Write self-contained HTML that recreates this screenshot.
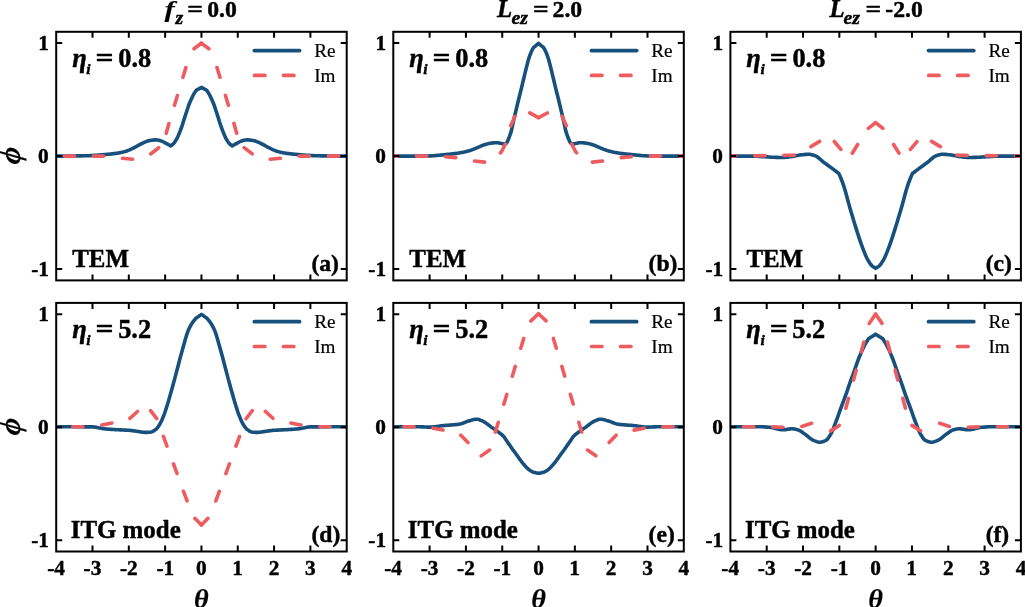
<!DOCTYPE html>
<html lang="en">
<head>
<meta charset="utf-8">
<title>Mode structures</title>
<style>
html,body{margin:0;padding:0;background:#fff;}
body{width:1025px;height:607px;overflow:hidden;}
svg{display:block;}
text{font-family:"Liberation Serif","DejaVu Serif",serif;fill:#000;}
.tk,.an,.ti,.ax{font-weight:bold;stroke:#000;stroke-width:0.45px;stroke-linejoin:round;}
.ax{font-style:italic;stroke-width:0.15px;}
.lg{font-size:19.2px;font-weight:normal;stroke:#000;stroke-width:0.2px;}
.it{font-style:italic;}
.ns{stroke-width:0.1px;}
</style>
</head>
<body>
<svg width="1025" height="607" viewBox="0 0 1025 607">
<rect x="0" y="0" width="1025" height="607" fill="#ffffff"/>
<defs>
<clipPath id="cp_a"><rect x="56.2" y="31.8" width="290.5" height="248.6"/></clipPath>
<clipPath id="cp_b"><rect x="393.3" y="31.8" width="290.5" height="248.6"/></clipPath>
<clipPath id="cp_c"><rect x="730.4" y="31.8" width="290.5" height="248.6"/></clipPath>
<clipPath id="cp_d"><rect x="56.2" y="302.9" width="290.5" height="248.6"/></clipPath>
<clipPath id="cp_e"><rect x="393.3" y="302.9" width="290.5" height="248.6"/></clipPath>
<clipPath id="cp_f"><rect x="730.4" y="302.9" width="290.5" height="248.6"/></clipPath>
</defs>
<g id="panel_a">
<g clip-path="url(#cp_a)" fill="none" stroke-linejoin="round">
<path d="M56.0,156.1 L57.0,156.1 L58.0,156.1 L59.0,156.1 L60.0,156.1 L61.0,156.1 L62.0,156.1 L63.0,156.1 L64.0,156.1 L65.0,156.1 L66.0,156.1 L67.0,156.1 L68.0,156.0 L69.0,156.0 L70.0,156.0 L70.9,156.0 L71.9,156.0 L72.9,156.0 L73.9,156.0 L74.9,156.0 L75.9,156.0 L76.9,155.9 L77.9,155.9 L78.9,155.9 L79.9,155.9 L80.9,155.9 L81.9,155.9 L82.9,155.8 L83.9,155.8 L84.9,155.8 L85.9,155.8 L86.9,155.8 L87.9,155.7 L88.9,155.7 L89.9,155.6 L90.9,155.6 L91.9,155.5 L92.9,155.5 L93.9,155.4 L94.9,155.4 L95.9,155.3 L96.9,155.2 L97.9,155.1 L98.9,155.1 L99.8,155.0 L100.8,154.9 L101.8,154.8 L102.8,154.7 L103.8,154.6 L104.8,154.6 L105.8,154.5 L106.8,154.4 L107.8,154.3 L108.8,154.2 L109.8,154.1 L110.8,154.0 L111.8,153.9 L112.8,153.8 L113.8,153.6 L114.8,153.5 L115.8,153.4 L116.8,153.2 L117.8,153.1 L118.8,152.9 L119.8,152.8 L120.8,152.6 L121.8,152.4 L122.8,152.1 L123.8,151.9 L124.8,151.6 L125.8,151.3 L126.8,151.0 L127.7,150.6 L128.7,150.2 L129.7,149.8 L130.7,149.3 L131.7,148.9 L132.7,148.4 L133.7,147.9 L134.7,147.4 L135.7,146.8 L136.7,146.3 L137.7,145.7 L138.7,145.2 L139.7,144.6 L140.7,144.1 L141.7,143.6 L142.7,143.1 L143.7,142.7 L144.7,142.2 L145.7,141.8 L146.7,141.4 L147.7,141.0 L148.7,140.7 L149.7,140.5 L150.7,140.4 L151.7,140.2 L152.7,140.1 L153.7,140.0 L154.7,139.9 L155.7,139.9 L156.6,139.9 L157.6,140.1 L158.6,140.3 L159.6,140.5 L160.6,140.8 L161.6,141.1 L162.6,141.5 L163.6,142.0 L164.6,142.5 L165.6,143.1 L166.6,143.6 L167.6,144.2 L168.6,144.7 L169.6,145.3 L170.6,145.9 L171.6,145.3 L172.6,144.5 L173.6,143.5 L174.6,142.3 L175.5,140.9 L176.5,139.3 L177.5,137.4 L178.5,135.1 L179.5,132.7 L180.5,130.2 L181.5,127.5 L182.5,124.6 L183.4,121.5 L184.4,118.4 L185.4,115.4 L186.4,112.3 L187.4,109.2 L188.4,106.2 L189.4,103.5 L190.4,101.1 L191.4,98.9 L192.3,96.9 L193.3,95.0 L194.3,93.2 L195.3,91.6 L196.3,90.2 L197.3,89.6 L198.4,89.1 L199.4,88.5 L200.5,88.0 L201.4,87.4 L202.4,88.0 L203.5,88.5 L204.5,89.1 L205.6,89.6 L206.6,90.2 L207.6,91.6 L208.6,93.2 L209.6,95.0 L210.6,96.9 L211.5,98.9 L212.5,101.1 L213.5,103.5 L214.5,106.2 L215.5,109.2 L216.5,112.3 L217.5,115.4 L218.5,118.4 L219.4,121.5 L220.4,124.6 L221.4,127.5 L222.4,130.2 L223.4,132.7 L224.4,135.1 L225.4,137.4 L226.4,139.3 L227.4,140.9 L228.3,142.3 L229.3,143.5 L230.3,144.5 L231.3,145.3 L232.3,145.9 L233.3,145.3 L234.3,144.7 L235.3,144.2 L236.3,143.6 L237.3,143.1 L238.3,142.5 L239.3,142.0 L240.3,141.5 L241.3,141.1 L242.3,140.8 L243.3,140.5 L244.3,140.3 L245.3,140.1 L246.3,139.9 L247.2,139.9 L248.2,139.9 L249.2,140.0 L250.2,140.1 L251.2,140.2 L252.2,140.4 L253.2,140.5 L254.2,140.7 L255.2,141.0 L256.2,141.4 L257.2,141.8 L258.2,142.2 L259.2,142.7 L260.2,143.1 L261.2,143.6 L262.2,144.1 L263.2,144.6 L264.2,145.2 L265.2,145.7 L266.2,146.3 L267.2,146.8 L268.2,147.4 L269.2,147.9 L270.2,148.4 L271.2,148.9 L272.2,149.3 L273.2,149.8 L274.2,150.2 L275.2,150.6 L276.1,151.0 L277.1,151.3 L278.1,151.6 L279.1,151.9 L280.1,152.1 L281.1,152.4 L282.1,152.6 L283.1,152.8 L284.1,152.9 L285.1,153.1 L286.1,153.2 L287.1,153.4 L288.1,153.5 L289.1,153.6 L290.1,153.8 L291.1,153.9 L292.1,154.0 L293.1,154.1 L294.1,154.2 L295.1,154.3 L296.1,154.4 L297.1,154.5 L298.1,154.6 L299.1,154.6 L300.1,154.7 L301.1,154.8 L302.1,154.9 L303.1,155.0 L304.0,155.1 L305.0,155.1 L306.0,155.2 L307.0,155.3 L308.0,155.4 L309.0,155.4 L310.0,155.5 L311.0,155.5 L312.0,155.6 L313.0,155.6 L314.0,155.7 L315.0,155.7 L316.0,155.8 L317.0,155.8 L318.0,155.8 L319.0,155.8 L320.0,155.8 L321.0,155.9 L322.0,155.9 L323.0,155.9 L324.0,155.9 L325.0,155.9 L326.0,155.9 L327.0,156.0 L328.0,156.0 L329.0,156.0 L330.0,156.0 L331.0,156.0 L332.0,156.0 L332.9,156.0 L333.9,156.0 L334.9,156.0 L335.9,156.1 L336.9,156.1 L337.9,156.1 L338.9,156.1 L339.9,156.1 L340.9,156.1 L341.9,156.1 L342.9,156.1 L343.9,156.1 L344.9,156.1 L345.9,156.1 L346.9,156.1" stroke="#17507c" stroke-width="3.6" stroke-linecap="butt"/>
<path d="M201.4,43.2 L190.9,51.0 L168.8,124.0 L165.2,137.0 L160.0,146.7 L150.6,154.0 L141.0,158.4 L133.0,159.2 L119.0,158.0 L104.0,156.1 L56.0,156.1" stroke="#ee5c60" stroke-width="3.6" stroke-linecap="round" stroke-dasharray="9.3 21.1 10.2 19.0 10.2 19.0 10.2 16.5 10.2 19.0 10.2 19.0 10.2 19.0 10.2 19.0 10.2 19.0 10.2 19.0 10.2 19.0 10.2 19.0 10.2 19.0 10.2 19.0 10.2 19.0"/>
<path d="M201.4,43.2 L212.0,51.0 L234.1,124.0 L237.7,137.0 L242.9,146.7 L252.3,154.0 L261.9,158.4 L269.9,159.2 L283.9,158.0 L298.9,156.1 L346.9,156.1" stroke="#ee5c60" stroke-width="3.6" stroke-linecap="round" stroke-dasharray="9.3 21.1 10.2 19.0 10.2 19.0 10.2 16.5 10.2 19.0 10.2 19.0 10.2 19.0 10.2 19.0 10.2 19.0 10.2 19.0 10.2 19.0 10.2 19.0 10.2 19.0 10.2 19.0 10.2 19.0"/>
</g>
<path d="M92.51,31.80 v6.0 M92.51,280.40 v-6.0 M128.82,31.80 v6.0 M128.82,280.40 v-6.0 M165.14,31.80 v6.0 M165.14,280.40 v-6.0 M201.45,31.80 v6.0 M201.45,280.40 v-6.0 M237.76,31.80 v6.0 M237.76,280.40 v-6.0 M274.07,31.80 v6.0 M274.07,280.40 v-6.0 M310.39,31.80 v6.0 M310.39,280.40 v-6.0 M56.20,269.10 h6.0 M346.70,269.10 h-6.0 M56.20,156.10 h6.0 M346.70,156.10 h-6.0 M56.20,43.10 h6.0 M346.70,43.10 h-6.0" stroke="#000" stroke-width="2.0" fill="none"/>
<rect x="56.20" y="31.80" width="290.50" height="248.60" fill="none" stroke="#000" stroke-width="2.0"/>
<text class="tk" style="font-size:21.3px" x="38.35" y="49.80">1</text>
<text class="tk" style="font-size:21.3px" x="38.06" y="162.80">0</text>
<text class="tk" style="font-size:21.3px" x="31.26" y="275.80">-1</text>
<text class="an it" style="font-size:26.4px" x="72.16" y="67.20">η</text>
<text class="an it" style="font-size:15.5px" x="86.21" y="74.20">i</text>
<text class="an" style="font-size:26.4px" transform="translate(95.52,67.20) scale(1.200,1)">=</text>
<text class="an" style="font-size:26.4px" x="118.19" y="67.20">0.8</text>
<text class="an" style="font-size:24.9px" x="72.21" y="266.60">TEM</text>
<text class="an" style="font-size:23.6px" x="311.46" y="270.50">(a)</text>
<path d="M254.3,50.6 H299.6" stroke="#17507c" stroke-width="3.7" stroke-linecap="round" fill="none"/>
<path d="M254.5,75.4 H301.2" stroke="#ee5c60" stroke-width="3.7" stroke-linecap="round" stroke-dasharray="10.4 18.6" fill="none"/>
<text class="lg" x="314.2" y="56.8">Re</text>
<text class="lg" x="314.2" y="82.0">Im</text>
</g>
<g id="panel_b">
<g clip-path="url(#cp_b)" fill="none" stroke-linejoin="round">
<path d="M393.3,156.1 L394.3,156.1 L395.3,156.1 L396.3,156.1 L397.3,156.1 L398.3,156.1 L399.3,156.1 L400.3,156.1 L401.3,156.1 L402.3,156.1 L403.3,156.1 L404.3,156.1 L405.3,156.1 L406.3,156.1 L407.3,156.1 L408.3,156.1 L409.3,156.1 L410.3,156.1 L411.3,156.1 L412.3,156.1 L413.3,156.1 L414.3,156.1 L415.3,156.1 L416.3,156.1 L417.3,156.1 L418.3,156.1 L419.3,156.0 L420.3,156.0 L421.3,156.0 L422.3,156.0 L423.3,156.0 L424.3,156.0 L425.3,156.0 L426.3,156.0 L427.3,156.0 L428.3,156.0 L429.3,156.0 L430.3,155.9 L431.3,155.9 L432.3,155.8 L433.3,155.8 L434.3,155.7 L435.3,155.6 L436.3,155.5 L437.3,155.4 L438.3,155.3 L439.3,155.2 L440.3,155.1 L441.3,155.0 L442.3,154.9 L443.3,154.8 L444.3,154.7 L445.3,154.6 L446.3,154.5 L447.3,154.4 L448.3,154.3 L449.3,154.2 L450.3,154.1 L451.3,154.0 L452.3,153.9 L453.3,153.7 L454.3,153.6 L455.3,153.5 L456.3,153.4 L457.3,153.2 L458.3,153.1 L459.3,152.9 L460.3,152.8 L461.3,152.6 L462.3,152.4 L463.3,152.2 L464.3,152.0 L465.3,151.8 L466.3,151.6 L467.3,151.3 L468.3,151.1 L469.3,150.7 L470.3,150.4 L471.3,150.0 L472.3,149.7 L473.3,149.3 L474.3,148.9 L475.3,148.5 L476.3,148.1 L477.3,147.7 L478.3,147.2 L479.3,146.8 L480.3,146.3 L481.3,145.9 L482.3,145.5 L483.3,145.1 L484.3,144.8 L485.3,144.5 L486.3,144.2 L487.3,143.9 L488.3,143.6 L489.3,143.4 L490.3,143.2 L491.3,143.1 L492.3,143.0 L493.3,142.9 L494.3,142.8 L495.3,142.7 L496.3,142.7 L497.3,142.7 L498.3,142.8 L499.3,143.0 L500.3,143.3 L501.3,143.5 L502.3,143.7 L503.3,143.7 L504.3,143.7 L505.3,143.6 L506.3,143.4 L507.3,141.8 L508.3,139.6 L509.3,137.0 L510.3,134.2 L511.4,130.6 L512.4,126.2 L513.4,121.5 L514.4,117.0 L515.4,112.8 L516.4,108.6 L517.4,104.5 L518.4,100.3 L519.4,96.2 L520.5,92.0 L521.5,87.9 L522.5,83.7 L523.5,79.5 L524.5,75.3 L525.5,71.1 L526.5,67.1 L527.5,63.2 L528.5,59.4 L529.6,56.2 L530.6,53.5 L531.6,51.1 L532.6,49.1 L533.6,47.5 L534.6,46.7 L535.6,45.9 L536.6,45.0 L537.6,44.2 L538.5,43.4 L539.5,44.2 L540.5,45.0 L541.5,45.9 L542.5,46.7 L543.5,47.5 L544.5,49.1 L545.5,51.1 L546.5,53.5 L547.5,56.2 L548.6,59.4 L549.6,63.2 L550.6,67.1 L551.6,71.1 L552.6,75.3 L553.6,79.5 L554.6,83.7 L555.6,87.9 L556.6,92.0 L557.7,96.2 L558.7,100.3 L559.7,104.5 L560.7,108.6 L561.7,112.8 L562.7,117.0 L563.7,121.5 L564.7,126.2 L565.7,130.6 L566.8,134.2 L567.8,137.0 L568.8,139.6 L569.8,141.8 L570.8,143.4 L571.8,143.6 L572.8,143.7 L573.8,143.7 L574.8,143.7 L575.8,143.5 L576.8,143.3 L577.8,143.0 L578.8,142.8 L579.8,142.7 L580.8,142.7 L581.8,142.7 L582.8,142.8 L583.8,142.9 L584.8,143.0 L585.8,143.1 L586.8,143.2 L587.8,143.4 L588.8,143.6 L589.8,143.9 L590.8,144.2 L591.8,144.5 L592.8,144.8 L593.8,145.1 L594.8,145.5 L595.8,145.9 L596.8,146.3 L597.8,146.8 L598.8,147.2 L599.8,147.7 L600.8,148.1 L601.8,148.5 L602.8,148.9 L603.8,149.3 L604.8,149.7 L605.8,150.0 L606.8,150.4 L607.8,150.7 L608.8,151.1 L609.8,151.3 L610.8,151.6 L611.8,151.8 L612.8,152.0 L613.8,152.2 L614.8,152.4 L615.8,152.6 L616.8,152.8 L617.8,152.9 L618.8,153.1 L619.8,153.2 L620.8,153.4 L621.8,153.5 L622.8,153.6 L623.8,153.7 L624.8,153.9 L625.8,154.0 L626.8,154.1 L627.8,154.2 L628.8,154.3 L629.8,154.4 L630.8,154.5 L631.8,154.6 L632.8,154.7 L633.8,154.8 L634.8,154.9 L635.8,155.0 L636.8,155.1 L637.8,155.2 L638.8,155.3 L639.8,155.4 L640.8,155.5 L641.8,155.6 L642.8,155.7 L643.8,155.8 L644.8,155.8 L645.8,155.9 L646.8,155.9 L647.8,156.0 L648.8,156.0 L649.8,156.0 L650.8,156.0 L651.8,156.0 L652.8,156.0 L653.8,156.0 L654.8,156.0 L655.8,156.0 L656.8,156.0 L657.8,156.0 L658.8,156.1 L659.8,156.1 L660.8,156.1 L661.8,156.1 L662.8,156.1 L663.8,156.1 L664.8,156.1 L665.8,156.1 L666.8,156.1 L667.8,156.1 L668.8,156.1 L669.8,156.1 L670.8,156.1 L671.8,156.1 L672.8,156.1 L673.8,156.1 L674.8,156.1 L675.8,156.1 L676.8,156.1 L677.8,156.1 L678.8,156.1 L679.8,156.1 L680.8,156.1 L681.8,156.1 L682.8,156.1 L683.8,156.1" stroke="#17507c" stroke-width="3.6" stroke-linecap="butt"/>
<path d="M538.5,117.7 L522.0,108.8 L515.8,114.4 L510.2,127.0 L505.9,143.0 L501.5,151.8 L493.0,160.0 L485.4,162.2 L472.9,160.9 L456.8,157.7 L443.6,156.5 L428.0,156.1 L393.3,156.1" stroke="#ee5c60" stroke-width="3.6" stroke-linecap="round" stroke-dasharray="10.0 19.4 10.2 19.0 10.2 19.0 10.2 19.0 10.2 19.0 10.2 19.0 10.2 19.0 10.2 19.0 10.2 19.0 10.2 19.0 10.2 19.0 10.2 19.0 10.2 19.0 10.2 19.0 10.2 19.0"/>
<path d="M538.5,117.7 L555.1,108.8 L561.3,114.4 L566.9,127.0 L571.2,143.0 L575.6,151.8 L584.1,160.0 L591.7,162.2 L604.2,160.9 L620.3,157.7 L633.5,156.5 L649.1,156.1 L683.8,156.1" stroke="#ee5c60" stroke-width="3.6" stroke-linecap="round" stroke-dasharray="10.0 19.4 10.2 19.0 10.2 19.0 10.2 19.0 10.2 19.0 10.2 19.0 10.2 19.0 10.2 19.0 10.2 19.0 10.2 19.0 10.2 19.0 10.2 19.0 10.2 19.0 10.2 19.0 10.2 19.0"/>
</g>
<path d="M429.61,31.80 v6.0 M429.61,280.40 v-6.0 M465.92,31.80 v6.0 M465.92,280.40 v-6.0 M502.24,31.80 v6.0 M502.24,280.40 v-6.0 M538.55,31.80 v6.0 M538.55,280.40 v-6.0 M574.86,31.80 v6.0 M574.86,280.40 v-6.0 M611.17,31.80 v6.0 M611.17,280.40 v-6.0 M647.49,31.80 v6.0 M647.49,280.40 v-6.0 M393.30,269.10 h6.0 M683.80,269.10 h-6.0 M393.30,156.10 h6.0 M683.80,156.10 h-6.0 M393.30,43.10 h6.0 M683.80,43.10 h-6.0" stroke="#000" stroke-width="2.0" fill="none"/>
<rect x="393.30" y="31.80" width="290.50" height="248.60" fill="none" stroke="#000" stroke-width="2.0"/>
<text class="tk" style="font-size:21.3px" x="375.45" y="49.80">1</text>
<text class="tk" style="font-size:21.3px" x="375.16" y="162.80">0</text>
<text class="tk" style="font-size:21.3px" x="368.36" y="275.80">-1</text>
<text class="an it" style="font-size:26.4px" x="409.26" y="67.20">η</text>
<text class="an it" style="font-size:15.5px" x="423.31" y="74.20">i</text>
<text class="an" style="font-size:26.4px" transform="translate(432.62,67.20) scale(1.200,1)">=</text>
<text class="an" style="font-size:26.4px" x="455.29" y="67.20">0.8</text>
<text class="an" style="font-size:24.9px" x="409.31" y="266.60">TEM</text>
<text class="an" style="font-size:23.6px" x="648.56" y="270.50">(b)</text>
<path d="M591.4,50.6 H636.7" stroke="#17507c" stroke-width="3.7" stroke-linecap="round" fill="none"/>
<path d="M591.6,75.4 H638.3" stroke="#ee5c60" stroke-width="3.7" stroke-linecap="round" stroke-dasharray="10.4 18.6" fill="none"/>
<text class="lg" x="651.3" y="56.8">Re</text>
<text class="lg" x="651.3" y="82.0">Im</text>
</g>
<g id="panel_c">
<g clip-path="url(#cp_c)" fill="none" stroke-linejoin="round">
<path d="M730.4,156.1 L731.4,156.1 L732.4,156.1 L733.4,156.1 L734.4,156.1 L735.4,156.1 L736.4,156.1 L737.4,156.1 L738.4,156.1 L739.4,156.1 L740.4,156.1 L741.4,156.1 L742.4,156.1 L743.4,156.1 L744.5,156.1 L745.5,156.1 L746.5,156.1 L747.5,156.1 L748.5,156.1 L749.5,156.1 L750.5,156.1 L751.5,156.1 L752.5,156.1 L753.5,156.1 L754.5,156.1 L755.5,156.2 L756.5,156.2 L757.5,156.3 L758.5,156.4 L759.5,156.4 L760.5,156.5 L761.5,156.6 L762.5,156.6 L763.5,156.7 L764.5,156.8 L765.5,156.8 L766.5,156.9 L767.5,156.9 L768.5,157.0 L769.5,157.0 L770.5,157.1 L771.6,157.2 L772.6,157.2 L773.6,157.3 L774.6,157.3 L775.6,157.4 L776.6,157.4 L777.6,157.4 L778.6,157.5 L779.6,157.5 L780.6,157.5 L781.6,157.5 L782.6,157.5 L783.6,157.4 L784.6,157.4 L785.6,157.3 L786.6,157.2 L787.6,157.1 L788.6,157.0 L789.6,156.8 L790.6,156.7 L791.6,156.6 L792.6,156.4 L793.6,156.3 L794.6,156.0 L795.6,155.8 L796.6,155.6 L797.6,155.4 L798.7,155.2 L799.7,155.0 L800.7,154.9 L801.7,154.8 L802.7,154.7 L803.7,154.6 L804.7,154.5 L805.7,154.4 L806.7,154.4 L807.7,154.3 L808.7,154.3 L809.7,154.3 L810.7,154.5 L811.7,154.7 L812.7,155.0 L813.7,155.3 L814.7,155.6 L815.7,156.0 L816.7,156.5 L817.7,157.2 L818.7,158.0 L819.7,158.8 L820.7,159.7 L821.7,160.6 L822.7,161.5 L823.7,162.3 L824.7,163.0 L825.8,163.7 L826.8,164.5 L827.8,165.2 L828.8,166.0 L829.8,166.7 L830.8,167.4 L831.8,168.2 L832.8,168.9 L833.8,169.7 L834.8,170.4 L835.8,171.2 L836.8,172.0 L837.8,172.7 L838.8,173.5 L839.8,175.6 L840.8,178.0 L841.8,180.5 L842.8,183.2 L843.8,186.1 L844.8,189.2 L845.8,192.7 L846.8,196.5 L847.8,200.2 L848.8,203.9 L849.8,207.4 L850.8,210.9 L851.8,214.3 L852.8,217.6 L853.8,221.0 L854.8,224.2 L855.8,227.4 L856.8,230.6 L857.8,233.7 L858.8,236.9 L859.8,239.9 L860.8,242.8 L861.8,245.6 L862.8,248.3 L863.8,250.9 L864.8,253.4 L865.8,255.8 L866.8,258.0 L867.8,259.8 L868.8,261.6 L869.8,263.1 L870.8,264.5 L871.8,265.7 L872.8,266.4 L873.7,267.0 L874.7,267.7 L875.6,268.4 L876.6,267.7 L877.6,267.0 L878.5,266.4 L879.5,265.7 L880.5,264.5 L881.5,263.1 L882.5,261.6 L883.5,259.8 L884.5,258.0 L885.5,255.8 L886.5,253.4 L887.5,250.9 L888.5,248.3 L889.5,245.6 L890.5,242.8 L891.5,239.9 L892.5,236.9 L893.5,233.7 L894.5,230.6 L895.5,227.4 L896.5,224.2 L897.5,221.0 L898.5,217.6 L899.5,214.3 L900.5,210.9 L901.5,207.4 L902.5,203.9 L903.5,200.2 L904.5,196.5 L905.5,192.7 L906.5,189.2 L907.5,186.1 L908.5,183.2 L909.5,180.5 L910.5,178.0 L911.5,175.6 L912.5,173.5 L913.5,172.7 L914.5,172.0 L915.5,171.2 L916.5,170.4 L917.5,169.7 L918.5,168.9 L919.5,168.2 L920.5,167.4 L921.5,166.7 L922.5,166.0 L923.5,165.2 L924.5,164.5 L925.5,163.7 L926.6,163.0 L927.6,162.3 L928.6,161.5 L929.6,160.6 L930.6,159.7 L931.6,158.8 L932.6,158.0 L933.6,157.2 L934.6,156.5 L935.6,156.0 L936.6,155.6 L937.6,155.3 L938.6,155.0 L939.6,154.7 L940.6,154.5 L941.6,154.3 L942.6,154.3 L943.6,154.3 L944.6,154.4 L945.6,154.4 L946.6,154.5 L947.6,154.6 L948.6,154.7 L949.6,154.8 L950.6,154.9 L951.6,155.0 L952.6,155.2 L953.7,155.4 L954.7,155.6 L955.7,155.8 L956.7,156.0 L957.7,156.3 L958.7,156.4 L959.7,156.6 L960.7,156.7 L961.7,156.8 L962.7,157.0 L963.7,157.1 L964.7,157.2 L965.7,157.3 L966.7,157.4 L967.7,157.4 L968.7,157.5 L969.7,157.5 L970.7,157.5 L971.7,157.5 L972.7,157.5 L973.7,157.4 L974.7,157.4 L975.7,157.4 L976.7,157.3 L977.7,157.3 L978.7,157.2 L979.7,157.2 L980.8,157.1 L981.8,157.0 L982.8,157.0 L983.8,156.9 L984.8,156.9 L985.8,156.8 L986.8,156.8 L987.8,156.7 L988.8,156.6 L989.8,156.6 L990.8,156.5 L991.8,156.4 L992.8,156.4 L993.8,156.3 L994.8,156.2 L995.8,156.2 L996.8,156.1 L997.8,156.1 L998.8,156.1 L999.8,156.1 L1000.8,156.1 L1001.8,156.1 L1002.8,156.1 L1003.8,156.1 L1004.8,156.1 L1005.8,156.1 L1006.8,156.1 L1007.9,156.1 L1008.9,156.1 L1009.9,156.1 L1010.9,156.1 L1011.9,156.1 L1012.9,156.1 L1013.9,156.1 L1014.9,156.1 L1015.9,156.1 L1016.9,156.1 L1017.9,156.1 L1018.9,156.1 L1019.9,156.1 L1020.9,156.1" stroke="#17507c" stroke-width="3.6" stroke-linecap="butt"/>
<path d="M875.6,122.6 L867.0,129.5 L848.8,158.8 L829.3,135.6 L797.1,154.9 L793.0,155.2 L730.4,156.1" stroke="#ee5c60" stroke-width="3.6" stroke-linecap="round" stroke-dasharray="9.3 19.4 10.2 19.0 10.2 19.0 10.2 19.0 10.2 19.0 10.2 19.0 10.2 19.0 10.2 19.0 10.2 19.0 10.2 19.0 10.2 19.0 10.2 19.0 10.2 19.0 10.2 19.0 10.2 19.0"/>
<path d="M875.6,122.6 L884.3,129.5 L902.5,158.8 L922.0,135.6 L954.2,154.9 L958.3,155.2 L1020.9,156.1" stroke="#ee5c60" stroke-width="3.6" stroke-linecap="round" stroke-dasharray="9.3 19.4 10.2 19.0 10.2 19.0 10.2 19.0 10.2 19.0 10.2 19.0 10.2 19.0 10.2 19.0 10.2 19.0 10.2 19.0 10.2 19.0 10.2 19.0 10.2 19.0 10.2 19.0 10.2 19.0"/>
</g>
<path d="M766.71,31.80 v6.0 M766.71,280.40 v-6.0 M803.02,31.80 v6.0 M803.02,280.40 v-6.0 M839.34,31.80 v6.0 M839.34,280.40 v-6.0 M875.65,31.80 v6.0 M875.65,280.40 v-6.0 M911.96,31.80 v6.0 M911.96,280.40 v-6.0 M948.27,31.80 v6.0 M948.27,280.40 v-6.0 M984.59,31.80 v6.0 M984.59,280.40 v-6.0 M730.40,269.10 h6.0 M1020.90,269.10 h-6.0 M730.40,156.10 h6.0 M1020.90,156.10 h-6.0 M730.40,43.10 h6.0 M1020.90,43.10 h-6.0" stroke="#000" stroke-width="2.0" fill="none"/>
<rect x="730.40" y="31.80" width="290.50" height="248.60" fill="none" stroke="#000" stroke-width="2.0"/>
<text class="tk" style="font-size:21.3px" x="712.55" y="49.80">1</text>
<text class="tk" style="font-size:21.3px" x="712.26" y="162.80">0</text>
<text class="tk" style="font-size:21.3px" x="705.46" y="275.80">-1</text>
<text class="an it" style="font-size:26.4px" x="746.36" y="67.20">η</text>
<text class="an it" style="font-size:15.5px" x="760.41" y="74.20">i</text>
<text class="an" style="font-size:26.4px" transform="translate(769.72,67.20) scale(1.200,1)">=</text>
<text class="an" style="font-size:26.4px" x="792.39" y="67.20">0.8</text>
<text class="an" style="font-size:24.9px" x="746.41" y="266.60">TEM</text>
<text class="an" style="font-size:23.6px" x="985.66" y="270.50">(c)</text>
<path d="M928.5,50.6 H973.8" stroke="#17507c" stroke-width="3.7" stroke-linecap="round" fill="none"/>
<path d="M928.7,75.4 H975.4" stroke="#ee5c60" stroke-width="3.7" stroke-linecap="round" stroke-dasharray="10.4 18.6" fill="none"/>
<text class="lg" x="988.4" y="56.8">Re</text>
<text class="lg" x="988.4" y="82.0">Im</text>
</g>
<g id="panel_d">
<g clip-path="url(#cp_d)" fill="none" stroke-linejoin="round">
<path d="M56.0,426.8 L57.0,426.8 L58.0,426.8 L59.0,426.8 L60.0,426.8 L61.0,426.8 L62.0,426.8 L63.0,426.8 L64.0,426.8 L65.0,426.8 L66.0,426.8 L67.0,426.8 L68.0,426.8 L69.0,426.8 L70.0,426.8 L71.0,426.8 L72.0,426.8 L73.0,426.8 L74.0,426.8 L75.0,426.8 L76.0,426.8 L77.0,426.8 L78.0,426.8 L79.0,426.8 L80.0,426.8 L81.0,426.8 L82.0,426.8 L83.0,426.9 L84.0,426.9 L85.0,426.9 L86.0,426.9 L87.0,426.9 L88.0,426.9 L89.0,426.9 L90.0,426.9 L91.0,426.9 L92.1,426.9 L93.1,426.9 L94.1,427.0 L95.1,427.1 L96.1,427.3 L97.1,427.5 L98.1,427.7 L99.1,427.9 L100.1,428.1 L101.1,428.3 L102.1,428.5 L103.1,428.6 L104.1,428.8 L105.1,428.9 L106.1,429.0 L107.1,429.0 L108.1,429.1 L109.1,429.2 L110.1,429.3 L111.1,429.4 L112.1,429.4 L113.1,429.5 L114.1,429.5 L115.1,429.6 L116.1,429.7 L117.1,429.7 L118.1,429.8 L119.1,429.8 L120.1,429.9 L121.1,429.9 L122.1,430.0 L123.1,430.0 L124.1,430.0 L125.1,430.1 L126.1,430.1 L127.1,430.2 L128.1,430.3 L129.1,430.3 L130.1,430.4 L131.1,430.5 L132.1,430.6 L133.1,430.8 L134.1,430.9 L135.1,431.0 L136.1,431.2 L137.1,431.3 L138.1,431.5 L139.1,431.6 L140.1,431.7 L141.1,431.9 L142.1,432.1 L143.1,432.2 L144.1,432.3 L145.1,432.4 L146.1,432.4 L147.1,432.4 L148.1,432.3 L149.1,432.3 L150.1,432.2 L151.1,432.0 L152.1,431.7 L153.1,431.2 L154.1,430.6 L155.1,429.9 L156.1,429.2 L157.1,428.1 L158.1,426.8 L159.1,425.3 L160.1,423.7 L161.1,421.7 L162.2,419.4 L163.2,416.9 L164.2,414.3 L165.2,411.5 L166.2,408.4 L167.2,405.2 L168.2,402.0 L169.2,398.6 L170.2,395.1 L171.2,391.5 L172.2,387.9 L173.2,384.3 L174.2,380.6 L175.2,376.9 L176.2,373.1 L177.2,369.3 L178.2,365.5 L179.2,361.6 L180.2,357.8 L181.2,354.1 L182.2,350.5 L183.2,347.0 L184.2,343.4 L185.2,339.8 L186.2,336.4 L187.2,333.3 L188.2,330.6 L189.2,328.3 L190.2,326.4 L191.2,324.6 L192.2,323.1 L193.2,321.6 L194.2,320.3 L195.2,319.1 L196.2,318.0 L197.3,317.3 L198.3,316.6 L199.4,315.8 L200.4,315.1 L201.4,314.4 L202.5,315.1 L203.5,315.8 L204.6,316.6 L205.6,317.3 L206.7,318.0 L207.7,319.1 L208.7,320.3 L209.7,321.6 L210.7,323.1 L211.7,324.6 L212.7,326.4 L213.7,328.3 L214.7,330.6 L215.7,333.3 L216.7,336.4 L217.7,339.8 L218.7,343.4 L219.7,347.0 L220.7,350.5 L221.7,354.1 L222.7,357.8 L223.7,361.6 L224.7,365.5 L225.7,369.3 L226.7,373.1 L227.7,376.9 L228.7,380.6 L229.7,384.3 L230.7,387.9 L231.7,391.5 L232.7,395.1 L233.7,398.6 L234.7,402.0 L235.7,405.2 L236.7,408.4 L237.7,411.5 L238.7,414.3 L239.7,416.9 L240.7,419.4 L241.8,421.7 L242.8,423.7 L243.8,425.3 L244.8,426.8 L245.8,428.1 L246.8,429.2 L247.8,429.9 L248.8,430.6 L249.8,431.2 L250.8,431.7 L251.8,432.0 L252.8,432.2 L253.8,432.3 L254.8,432.3 L255.8,432.4 L256.8,432.4 L257.8,432.4 L258.8,432.3 L259.8,432.2 L260.8,432.1 L261.8,431.9 L262.8,431.7 L263.8,431.6 L264.8,431.5 L265.8,431.3 L266.8,431.2 L267.8,431.0 L268.8,430.9 L269.8,430.8 L270.8,430.6 L271.8,430.5 L272.8,430.4 L273.8,430.3 L274.8,430.3 L275.8,430.2 L276.8,430.1 L277.8,430.1 L278.8,430.0 L279.8,430.0 L280.8,430.0 L281.8,429.9 L282.8,429.9 L283.8,429.8 L284.8,429.8 L285.8,429.7 L286.8,429.7 L287.8,429.6 L288.8,429.5 L289.8,429.5 L290.8,429.4 L291.8,429.4 L292.8,429.3 L293.8,429.2 L294.8,429.1 L295.8,429.0 L296.8,429.0 L297.8,428.9 L298.8,428.8 L299.8,428.6 L300.8,428.5 L301.8,428.3 L302.8,428.1 L303.8,427.9 L304.8,427.7 L305.8,427.5 L306.8,427.3 L307.8,427.1 L308.8,427.0 L309.8,426.9 L310.8,426.9 L311.8,426.9 L312.9,426.9 L313.9,426.9 L314.9,426.9 L315.9,426.9 L316.9,426.9 L317.9,426.9 L318.9,426.9 L319.9,426.9 L320.9,426.8 L321.9,426.8 L322.9,426.8 L323.9,426.8 L324.9,426.8 L325.9,426.8 L326.9,426.8 L327.9,426.8 L328.9,426.8 L329.9,426.8 L330.9,426.8 L331.9,426.8 L332.9,426.8 L333.9,426.8 L334.9,426.8 L335.9,426.8 L336.9,426.8 L337.9,426.8 L338.9,426.8 L339.9,426.8 L340.9,426.8 L341.9,426.8 L342.9,426.8 L343.9,426.8 L344.9,426.8 L345.9,426.8 L346.9,426.8" stroke="#17507c" stroke-width="3.6" stroke-linecap="butt"/>
<path d="M201.4,525.0 L192.6,516.0 L157.0,419.0 L145.6,404.2 L128.0,420.0 L111.1,423.2 L99.5,425.4 L92.0,426.8 L56.0,426.8" stroke="#ee5c60" stroke-width="3.6" stroke-linecap="round" stroke-dasharray="9.3 19.4 10.2 19.0 10.2 19.0 10.2 19.0 10.2 19.0 10.2 19.0 10.2 19.0 10.2 19.0 10.2 19.0 10.2 19.0 10.2 19.0 10.2 19.0 10.2 19.0 10.2 19.0 10.2 19.0"/>
<path d="M201.4,525.0 L210.3,516.0 L245.9,419.0 L257.3,404.2 L274.9,420.0 L291.8,423.2 L303.4,425.4 L310.9,426.8 L346.9,426.8" stroke="#ee5c60" stroke-width="3.6" stroke-linecap="round" stroke-dasharray="9.3 19.4 10.2 19.0 10.2 19.0 10.2 19.0 10.2 19.0 10.2 19.0 10.2 19.0 10.2 19.0 10.2 19.0 10.2 19.0 10.2 19.0 10.2 19.0 10.2 19.0 10.2 19.0 10.2 19.0"/>
</g>
<path d="M92.51,302.90 v6.0 M92.51,551.50 v-6.0 M128.82,302.90 v6.0 M128.82,551.50 v-6.0 M165.14,302.90 v6.0 M165.14,551.50 v-6.0 M201.45,302.90 v6.0 M201.45,551.50 v-6.0 M237.76,302.90 v6.0 M237.76,551.50 v-6.0 M274.07,302.90 v6.0 M274.07,551.50 v-6.0 M310.39,302.90 v6.0 M310.39,551.50 v-6.0 M56.20,540.20 h6.0 M346.70,540.20 h-6.0 M56.20,427.20 h6.0 M346.70,427.20 h-6.0 M56.20,314.20 h6.0 M346.70,314.20 h-6.0" stroke="#000" stroke-width="2.0" fill="none"/>
<rect x="56.20" y="302.90" width="290.50" height="248.60" fill="none" stroke="#000" stroke-width="2.0"/>
<text class="tk" style="font-size:21.3px" x="38.35" y="320.90">1</text>
<text class="tk" style="font-size:21.3px" x="38.06" y="433.90">0</text>
<text class="tk" style="font-size:21.3px" x="31.26" y="546.90">-1</text>
<text class="tk" style="font-size:21.3px" x="47.14" y="575.40">-4</text>
<text class="tk" style="font-size:21.3px" x="83.61" y="575.40">-3</text>
<text class="tk" style="font-size:21.3px" x="120.02" y="575.40">-2</text>
<text class="tk" style="font-size:21.3px" x="156.43" y="575.40">-1</text>
<text class="tk" style="font-size:21.3px" x="196.12" y="575.40">0</text>
<text class="tk" style="font-size:21.3px" x="232.14" y="575.40">1</text>
<text class="tk" style="font-size:21.3px" x="268.76" y="575.40">2</text>
<text class="tk" style="font-size:21.3px" x="305.03" y="575.40">3</text>
<text class="tk" style="font-size:21.3px" x="341.43" y="575.40">4</text>
<text class="ax" style="font-size:28.2px" x="194.05" y="608.30">θ</text>
<text class="an it" style="font-size:26.4px" x="72.16" y="338.30">η</text>
<text class="an it" style="font-size:15.5px" x="86.21" y="345.30">i</text>
<text class="an" style="font-size:26.4px" transform="translate(95.52,338.30) scale(1.200,1)">=</text>
<text class="an" style="font-size:26.4px" x="118.14" y="338.30">5.2</text>
<text class="an" style="font-size:24.9px" x="70.76" y="537.70">ITG mode</text>
<text class="an" style="font-size:23.6px" x="311.46" y="541.60">(d)</text>
<path d="M254.3,321.7 H299.6" stroke="#17507c" stroke-width="3.7" stroke-linecap="round" fill="none"/>
<path d="M254.5,346.5 H301.2" stroke="#ee5c60" stroke-width="3.7" stroke-linecap="round" stroke-dasharray="10.4 18.6" fill="none"/>
<text class="lg" x="314.2" y="327.9">Re</text>
<text class="lg" x="314.2" y="353.1">Im</text>
</g>
<g id="panel_e">
<g clip-path="url(#cp_e)" fill="none" stroke-linejoin="round">
<path d="M393.3,426.8 L394.3,426.8 L395.3,426.8 L396.3,426.8 L397.3,426.8 L398.3,426.8 L399.3,426.8 L400.3,426.8 L401.3,426.8 L402.3,426.8 L403.3,426.8 L404.4,426.8 L405.4,426.8 L406.4,426.8 L407.4,426.8 L408.4,426.8 L409.4,426.8 L410.4,426.8 L411.4,426.8 L412.4,426.8 L413.4,426.8 L414.4,426.8 L415.4,426.8 L416.4,426.8 L417.4,426.8 L418.4,426.8 L419.4,426.8 L420.4,426.8 L421.4,426.9 L422.4,426.9 L423.4,426.9 L424.4,427.0 L425.4,427.0 L426.5,427.0 L427.5,427.1 L428.5,427.1 L429.5,427.1 L430.5,427.1 L431.5,427.1 L432.5,427.0 L433.5,426.9 L434.5,426.8 L435.5,426.7 L436.5,426.5 L437.5,426.4 L438.5,426.2 L439.5,426.1 L440.5,425.9 L441.5,425.8 L442.5,425.7 L443.5,425.6 L444.5,425.5 L445.5,425.4 L446.5,425.3 L447.5,425.3 L448.6,425.2 L449.6,425.1 L450.6,425.0 L451.6,425.0 L452.6,424.9 L453.6,424.8 L454.6,424.7 L455.6,424.6 L456.6,424.5 L457.6,424.4 L458.6,424.2 L459.6,424.1 L460.6,423.9 L461.6,423.6 L462.6,423.3 L463.6,422.9 L464.6,422.5 L465.6,422.1 L466.6,421.7 L467.6,421.3 L468.6,421.0 L469.6,420.7 L470.7,420.4 L471.7,420.1 L472.7,419.8 L473.7,419.6 L474.7,419.4 L475.7,419.3 L476.7,419.2 L477.7,419.3 L478.7,419.5 L479.7,419.8 L480.7,420.3 L481.7,420.7 L482.7,421.2 L483.7,421.6 L484.7,422.2 L485.7,422.9 L486.7,423.6 L487.7,424.3 L488.7,425.1 L489.7,425.9 L490.7,426.7 L491.7,427.4 L492.8,428.1 L493.8,428.8 L494.8,429.4 L495.8,430.1 L496.8,430.8 L497.8,431.6 L498.8,432.3 L499.8,433.1 L500.8,433.9 L501.8,434.7 L502.8,435.6 L503.8,436.5 L504.8,438.0 L505.8,439.5 L506.8,441.0 L507.8,442.4 L508.8,443.9 L509.8,445.3 L510.8,446.7 L511.7,448.1 L512.7,449.5 L513.7,450.8 L514.7,452.2 L515.7,453.5 L516.7,454.9 L517.7,456.3 L518.7,457.7 L519.7,459.1 L520.7,460.5 L521.7,461.8 L522.7,463.1 L523.7,464.2 L524.6,465.4 L525.6,466.5 L526.6,467.5 L527.6,468.5 L528.6,469.3 L529.6,470.1 L530.6,470.8 L531.6,471.4 L532.6,471.9 L533.6,472.3 L534.6,472.5 L535.6,472.8 L536.6,473.0 L537.6,473.1 L538.5,473.2 L539.5,473.1 L540.5,473.0 L541.5,472.8 L542.5,472.5 L543.5,472.3 L544.5,471.9 L545.5,471.4 L546.5,470.8 L547.5,470.1 L548.5,469.3 L549.5,468.5 L550.5,467.5 L551.5,466.5 L552.4,465.4 L553.4,464.2 L554.4,463.1 L555.4,461.8 L556.4,460.5 L557.4,459.1 L558.4,457.7 L559.4,456.3 L560.4,454.9 L561.4,453.5 L562.4,452.2 L563.4,450.8 L564.4,449.5 L565.4,448.1 L566.3,446.7 L567.3,445.3 L568.3,443.9 L569.3,442.4 L570.3,441.0 L571.3,439.5 L572.3,438.0 L573.3,436.5 L574.3,435.6 L575.3,434.7 L576.3,433.9 L577.3,433.1 L578.3,432.3 L579.3,431.6 L580.3,430.8 L581.3,430.1 L582.3,429.4 L583.3,428.8 L584.3,428.1 L585.4,427.4 L586.4,426.7 L587.4,425.9 L588.4,425.1 L589.4,424.3 L590.4,423.6 L591.4,422.9 L592.4,422.2 L593.4,421.6 L594.4,421.2 L595.4,420.7 L596.4,420.3 L597.4,419.8 L598.4,419.5 L599.4,419.3 L600.4,419.2 L601.4,419.3 L602.4,419.4 L603.4,419.6 L604.4,419.8 L605.4,420.1 L606.4,420.4 L607.5,420.7 L608.5,421.0 L609.5,421.3 L610.5,421.7 L611.5,422.1 L612.5,422.5 L613.5,422.9 L614.5,423.3 L615.5,423.6 L616.5,423.9 L617.5,424.1 L618.5,424.2 L619.5,424.4 L620.5,424.5 L621.5,424.6 L622.5,424.7 L623.5,424.8 L624.5,424.9 L625.5,425.0 L626.5,425.0 L627.5,425.1 L628.5,425.2 L629.6,425.3 L630.6,425.3 L631.6,425.4 L632.6,425.5 L633.6,425.6 L634.6,425.7 L635.6,425.8 L636.6,425.9 L637.6,426.1 L638.6,426.2 L639.6,426.4 L640.6,426.5 L641.6,426.7 L642.6,426.8 L643.6,426.9 L644.6,427.0 L645.6,427.1 L646.6,427.1 L647.6,427.1 L648.6,427.1 L649.6,427.1 L650.6,427.0 L651.7,427.0 L652.7,427.0 L653.7,426.9 L654.7,426.9 L655.7,426.9 L656.7,426.8 L657.7,426.8 L658.7,426.8 L659.7,426.8 L660.7,426.8 L661.7,426.8 L662.7,426.8 L663.7,426.8 L664.7,426.8 L665.7,426.8 L666.7,426.8 L667.7,426.8 L668.7,426.8 L669.7,426.8 L670.7,426.8 L671.7,426.8 L672.7,426.8 L673.8,426.8 L674.8,426.8 L675.8,426.8 L676.8,426.8 L677.8,426.8 L678.8,426.8 L679.8,426.8 L680.8,426.8 L681.8,426.8 L682.8,426.8 L683.8,426.8" stroke="#17507c" stroke-width="3.6" stroke-linecap="butt"/>
<path d="M538.5,313.8 L528.3,323.4 L490.0,449.8 L481.0,456.0 L459.0,433.2 L426.0,426.8 L393.3,426.8" stroke="#ee5c60" stroke-width="3.6" stroke-linecap="round" stroke-dasharray="10.4 19.4 10.2 19.0 10.2 19.0 10.2 19.0 10.2 19.0 10.2 19.0 10.2 19.0 10.2 19.0 10.2 19.0 10.2 19.0 10.2 19.0 10.2 19.0 10.2 19.0 10.2 19.0 10.2 19.0"/>
<path d="M538.5,313.8 L548.8,323.4 L587.1,449.8 L596.1,456.0 L618.1,433.2 L651.1,426.8 L683.8,426.8" stroke="#ee5c60" stroke-width="3.6" stroke-linecap="round" stroke-dasharray="10.4 19.4 10.2 19.0 10.2 19.0 10.2 19.0 10.2 19.0 10.2 19.0 10.2 19.0 10.2 19.0 10.2 19.0 10.2 19.0 10.2 19.0 10.2 19.0 10.2 19.0 10.2 19.0 10.2 19.0"/>
</g>
<path d="M429.61,302.90 v6.0 M429.61,551.50 v-6.0 M465.92,302.90 v6.0 M465.92,551.50 v-6.0 M502.24,302.90 v6.0 M502.24,551.50 v-6.0 M538.55,302.90 v6.0 M538.55,551.50 v-6.0 M574.86,302.90 v6.0 M574.86,551.50 v-6.0 M611.17,302.90 v6.0 M611.17,551.50 v-6.0 M647.49,302.90 v6.0 M647.49,551.50 v-6.0 M393.30,540.20 h6.0 M683.80,540.20 h-6.0 M393.30,427.20 h6.0 M683.80,427.20 h-6.0 M393.30,314.20 h6.0 M683.80,314.20 h-6.0" stroke="#000" stroke-width="2.0" fill="none"/>
<rect x="393.30" y="302.90" width="290.50" height="248.60" fill="none" stroke="#000" stroke-width="2.0"/>
<text class="tk" style="font-size:21.3px" x="375.45" y="320.90">1</text>
<text class="tk" style="font-size:21.3px" x="375.16" y="433.90">0</text>
<text class="tk" style="font-size:21.3px" x="368.36" y="546.90">-1</text>
<text class="tk" style="font-size:21.3px" x="384.24" y="575.40">-4</text>
<text class="tk" style="font-size:21.3px" x="420.71" y="575.40">-3</text>
<text class="tk" style="font-size:21.3px" x="457.12" y="575.40">-2</text>
<text class="tk" style="font-size:21.3px" x="493.53" y="575.40">-1</text>
<text class="tk" style="font-size:21.3px" x="533.22" y="575.40">0</text>
<text class="tk" style="font-size:21.3px" x="569.24" y="575.40">1</text>
<text class="tk" style="font-size:21.3px" x="605.86" y="575.40">2</text>
<text class="tk" style="font-size:21.3px" x="642.13" y="575.40">3</text>
<text class="tk" style="font-size:21.3px" x="678.53" y="575.40">4</text>
<text class="ax" style="font-size:28.2px" x="531.15" y="608.30">θ</text>
<text class="an it" style="font-size:26.4px" x="409.26" y="338.30">η</text>
<text class="an it" style="font-size:15.5px" x="423.31" y="345.30">i</text>
<text class="an" style="font-size:26.4px" transform="translate(432.62,338.30) scale(1.200,1)">=</text>
<text class="an" style="font-size:26.4px" x="455.24" y="338.30">5.2</text>
<text class="an" style="font-size:24.9px" x="407.86" y="537.70">ITG mode</text>
<text class="an" style="font-size:23.6px" x="648.56" y="541.60">(e)</text>
<path d="M591.4,321.7 H636.7" stroke="#17507c" stroke-width="3.7" stroke-linecap="round" fill="none"/>
<path d="M591.6,346.5 H638.3" stroke="#ee5c60" stroke-width="3.7" stroke-linecap="round" stroke-dasharray="10.4 18.6" fill="none"/>
<text class="lg" x="651.3" y="327.9">Re</text>
<text class="lg" x="651.3" y="353.1">Im</text>
</g>
<g id="panel_f">
<g clip-path="url(#cp_f)" fill="none" stroke-linejoin="round">
<path d="M730.4,426.8 L731.4,426.8 L732.4,426.8 L733.4,426.8 L734.4,426.8 L735.4,426.8 L736.4,426.8 L737.4,426.8 L738.4,426.8 L739.4,426.8 L740.4,426.8 L741.4,426.8 L742.4,426.8 L743.4,426.8 L744.4,426.8 L745.4,426.8 L746.4,426.8 L747.4,426.8 L748.4,426.8 L749.4,426.8 L750.4,426.8 L751.4,426.8 L752.4,426.8 L753.5,426.8 L754.5,426.8 L755.5,426.8 L756.5,426.8 L757.5,426.8 L758.5,426.8 L759.5,426.8 L760.5,426.8 L761.5,426.8 L762.5,426.8 L763.5,426.9 L764.5,426.9 L765.5,427.0 L766.5,427.1 L767.5,427.1 L768.5,427.2 L769.5,427.3 L770.5,427.4 L771.5,427.5 L772.5,427.7 L773.5,427.9 L774.5,428.2 L775.5,428.4 L776.5,428.7 L777.5,428.9 L778.5,429.2 L779.5,429.4 L780.5,429.6 L781.5,429.7 L782.5,429.8 L783.5,429.8 L784.5,429.7 L785.5,429.6 L786.5,429.5 L787.5,429.3 L788.5,429.1 L789.5,429.0 L790.5,428.9 L791.5,428.8 L792.5,428.8 L793.5,428.9 L794.5,429.1 L795.5,429.3 L796.5,429.5 L797.5,429.7 L798.5,430.0 L799.5,430.5 L800.6,431.1 L801.6,431.7 L802.6,432.5 L803.6,433.2 L804.6,433.9 L805.6,434.6 L806.6,435.4 L807.6,436.2 L808.6,437.1 L809.6,437.9 L810.6,438.7 L811.6,439.4 L812.6,439.9 L813.6,440.3 L814.6,440.8 L815.6,441.2 L816.6,441.6 L817.6,441.9 L818.6,442.1 L819.6,442.2 L820.6,442.2 L821.6,442.0 L822.6,441.8 L823.6,441.4 L824.6,441.0 L825.6,440.5 L826.6,439.9 L827.6,438.9 L828.6,437.6 L829.6,436.1 L830.6,434.4 L831.6,432.6 L832.6,430.3 L833.6,427.8 L834.6,425.2 L835.6,422.6 L836.6,420.0 L837.6,417.3 L838.6,414.5 L839.6,411.7 L840.6,408.9 L841.6,406.2 L842.6,403.5 L843.6,400.8 L844.6,398.0 L845.7,395.2 L846.7,392.3 L847.7,389.4 L848.7,386.4 L849.7,383.5 L850.7,380.7 L851.7,378.0 L852.7,375.4 L853.7,372.6 L854.7,369.7 L855.7,366.8 L856.7,363.9 L857.7,361.1 L858.7,358.5 L859.7,356.0 L860.7,353.6 L861.7,351.3 L862.7,349.1 L863.7,347.1 L864.7,345.2 L865.7,343.4 L866.7,341.7 L867.7,340.1 L868.7,338.6 L869.7,338.0 L870.7,337.3 L871.7,336.7 L872.7,336.1 L873.7,335.5 L874.7,334.8 L875.6,334.2 L876.6,334.8 L877.6,335.5 L878.6,336.1 L879.6,336.7 L880.6,337.3 L881.6,338.0 L882.6,338.6 L883.6,340.1 L884.6,341.7 L885.6,343.4 L886.6,345.2 L887.6,347.1 L888.6,349.1 L889.6,351.3 L890.6,353.6 L891.6,356.0 L892.6,358.5 L893.6,361.1 L894.6,363.9 L895.6,366.8 L896.6,369.7 L897.6,372.6 L898.6,375.4 L899.6,378.0 L900.6,380.7 L901.6,383.5 L902.6,386.4 L903.6,389.4 L904.6,392.3 L905.6,395.2 L906.7,398.0 L907.7,400.8 L908.7,403.5 L909.7,406.2 L910.7,408.9 L911.7,411.7 L912.7,414.5 L913.7,417.3 L914.7,420.0 L915.7,422.6 L916.7,425.2 L917.7,427.8 L918.7,430.3 L919.7,432.6 L920.7,434.4 L921.7,436.1 L922.7,437.6 L923.7,438.9 L924.7,439.9 L925.7,440.5 L926.7,441.0 L927.7,441.4 L928.7,441.8 L929.7,442.0 L930.7,442.2 L931.7,442.2 L932.7,442.1 L933.7,441.9 L934.7,441.6 L935.7,441.2 L936.7,440.8 L937.7,440.3 L938.7,439.9 L939.7,439.4 L940.7,438.7 L941.7,437.9 L942.7,437.1 L943.7,436.2 L944.7,435.4 L945.7,434.6 L946.7,433.9 L947.7,433.2 L948.7,432.5 L949.7,431.7 L950.7,431.1 L951.8,430.5 L952.8,430.0 L953.8,429.7 L954.8,429.5 L955.8,429.3 L956.8,429.1 L957.8,428.9 L958.8,428.8 L959.8,428.8 L960.8,428.9 L961.8,429.0 L962.8,429.1 L963.8,429.3 L964.8,429.5 L965.8,429.6 L966.8,429.7 L967.8,429.8 L968.8,429.8 L969.8,429.7 L970.8,429.6 L971.8,429.4 L972.8,429.2 L973.8,428.9 L974.8,428.7 L975.8,428.4 L976.8,428.2 L977.8,427.9 L978.8,427.7 L979.8,427.5 L980.8,427.4 L981.8,427.3 L982.8,427.2 L983.8,427.1 L984.8,427.1 L985.8,427.0 L986.8,426.9 L987.8,426.9 L988.8,426.8 L989.8,426.8 L990.8,426.8 L991.8,426.8 L992.8,426.8 L993.8,426.8 L994.8,426.8 L995.8,426.8 L996.8,426.8 L997.8,426.8 L998.9,426.8 L999.9,426.8 L1000.9,426.8 L1001.9,426.8 L1002.9,426.8 L1003.9,426.8 L1004.9,426.8 L1005.9,426.8 L1006.9,426.8 L1007.9,426.8 L1008.9,426.8 L1009.9,426.8 L1010.9,426.8 L1011.9,426.8 L1012.9,426.8 L1013.9,426.8 L1014.9,426.8 L1015.9,426.8 L1016.9,426.8 L1017.9,426.8 L1018.9,426.8 L1019.9,426.8 L1020.9,426.8" stroke="#17507c" stroke-width="3.6" stroke-linecap="butt"/>
<path d="M875.6,314.1 L868.8,324.0 L841.5,424.0 L828.6,432.2 L813.3,422.7 L799.0,427.4 L783.8,427.2 L771.6,426.8 L730.4,426.8" stroke="#ee5c60" stroke-width="3.6" stroke-linecap="round" stroke-dasharray="11.3 19.4 10.2 19.0 10.2 19.0 10.2 19.0 10.2 22.3 10.2 19.0 10.2 19.0 10.2 19.0 10.2 19.0 10.2 19.0 10.2 19.0 10.2 19.0 10.2 19.0 10.2 19.0 10.2 19.0"/>
<path d="M875.6,314.1 L882.5,324.0 L909.8,424.0 L922.7,432.2 L938.0,422.7 L952.3,427.4 L967.5,427.2 L979.7,426.8 L1020.9,426.8" stroke="#ee5c60" stroke-width="3.6" stroke-linecap="round" stroke-dasharray="11.3 19.4 10.2 19.0 10.2 19.0 10.2 19.0 10.2 22.3 10.2 19.0 10.2 19.0 10.2 19.0 10.2 19.0 10.2 19.0 10.2 19.0 10.2 19.0 10.2 19.0 10.2 19.0 10.2 19.0"/>
</g>
<path d="M766.71,302.90 v6.0 M766.71,551.50 v-6.0 M803.02,302.90 v6.0 M803.02,551.50 v-6.0 M839.34,302.90 v6.0 M839.34,551.50 v-6.0 M875.65,302.90 v6.0 M875.65,551.50 v-6.0 M911.96,302.90 v6.0 M911.96,551.50 v-6.0 M948.27,302.90 v6.0 M948.27,551.50 v-6.0 M984.59,302.90 v6.0 M984.59,551.50 v-6.0 M730.40,540.20 h6.0 M1020.90,540.20 h-6.0 M730.40,427.20 h6.0 M1020.90,427.20 h-6.0 M730.40,314.20 h6.0 M1020.90,314.20 h-6.0" stroke="#000" stroke-width="2.0" fill="none"/>
<rect x="730.40" y="302.90" width="290.50" height="248.60" fill="none" stroke="#000" stroke-width="2.0"/>
<text class="tk" style="font-size:21.3px" x="712.55" y="320.90">1</text>
<text class="tk" style="font-size:21.3px" x="712.26" y="433.90">0</text>
<text class="tk" style="font-size:21.3px" x="705.46" y="546.90">-1</text>
<text class="tk" style="font-size:21.3px" x="721.34" y="575.40">-4</text>
<text class="tk" style="font-size:21.3px" x="757.81" y="575.40">-3</text>
<text class="tk" style="font-size:21.3px" x="794.22" y="575.40">-2</text>
<text class="tk" style="font-size:21.3px" x="830.63" y="575.40">-1</text>
<text class="tk" style="font-size:21.3px" x="870.32" y="575.40">0</text>
<text class="tk" style="font-size:21.3px" x="906.34" y="575.40">1</text>
<text class="tk" style="font-size:21.3px" x="942.96" y="575.40">2</text>
<text class="tk" style="font-size:21.3px" x="979.23" y="575.40">3</text>
<text class="tk" style="font-size:21.3px" x="1015.63" y="575.40">4</text>
<text class="ax" style="font-size:28.2px" x="868.25" y="608.30">θ</text>
<text class="an it" style="font-size:26.4px" x="746.36" y="338.30">η</text>
<text class="an it" style="font-size:15.5px" x="760.41" y="345.30">i</text>
<text class="an" style="font-size:26.4px" transform="translate(769.72,338.30) scale(1.200,1)">=</text>
<text class="an" style="font-size:26.4px" x="792.34" y="338.30">5.2</text>
<text class="an" style="font-size:24.9px" x="744.96" y="537.70">ITG mode</text>
<text class="an" style="font-size:23.6px" x="985.66" y="541.60">(f)</text>
<path d="M928.5,321.7 H973.8" stroke="#17507c" stroke-width="3.7" stroke-linecap="round" fill="none"/>
<path d="M928.7,346.5 H975.4" stroke="#ee5c60" stroke-width="3.7" stroke-linecap="round" stroke-dasharray="10.4 18.6" fill="none"/>
<text class="lg" x="988.4" y="327.9">Re</text>
<text class="lg" x="988.4" y="353.1">Im</text>
</g>
<text class="ax" style="font-size:30.0px" transform="translate(20.4,156.2) rotate(-90) skewX(-6)" text-anchor="middle">ϕ</text>
<text class="ax" style="font-size:30.0px" transform="translate(20.4,427.3) rotate(-90) skewX(-6)" text-anchor="middle">ϕ</text>
<text class="ti it ns" style="font-size:23.7px" transform="translate(164.40,16.60) scale(1.300,1)">f</text>
<text class="ti it" style="font-size:19.8px" x="175.46" y="23.60">z</text>
<text class="ti" style="font-size:23.7px" transform="translate(187.23,16.60) scale(1.160,1)">=</text>
<text class="ti" style="font-size:23.7px" x="207.20" y="16.60">0.0</text>
<text class="ti it" style="font-size:24.8px" x="496.98" y="16.60">L</text>
<text class="ti it" style="font-size:19.8px" x="511.54" y="23.80">ez</text>
<text class="ti" style="font-size:23.7px" transform="translate(532.93,16.60) scale(1.160,1)">=</text>
<text class="ti" style="font-size:23.7px" x="552.60" y="16.60">2.0</text>
<text class="ti it" style="font-size:24.8px" x="829.58" y="16.60">L</text>
<text class="ti it" style="font-size:19.8px" x="843.54" y="23.80">ez</text>
<text class="ti" style="font-size:23.7px" transform="translate(865.43,16.60) scale(1.160,1)">=</text>
<text class="ti" style="font-size:23.7px" x="885.33" y="16.60">-2.0</text>
</svg>
</body>
</html>
